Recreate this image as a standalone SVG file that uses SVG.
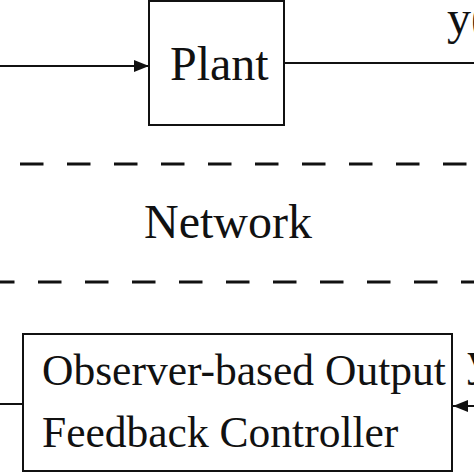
<svg xmlns="http://www.w3.org/2000/svg" width="474" height="474" viewBox="0 0 474 474">
<style>
.box{fill:#fff;stroke:#111;stroke-width:2}
.ln{fill:none;stroke:#111;stroke-width:2}
.dash{fill:none;stroke:#111;stroke-width:3;stroke-dasharray:23.5 23.5}
text{font-family:"Liberation Serif","Times New Roman",serif;fill:#111}
</style>
<defs>
<marker id="ah" viewBox="0 0 15 12" refX="15" refY="6" markerWidth="15" markerHeight="12" markerUnits="userSpaceOnUse" orient="auto">
<path d="M0,0 L15,6 L0,12 Z" fill="#111"/>
</marker>
</defs>
<g id="connectors">
<line class="ln" x1="0" y1="66" x2="149" y2="66" marker-end="url(#ah)"/>
<line class="ln" x1="284" y1="63" x2="474" y2="63"/>
<line class="ln" x1="0" y1="404" x2="23" y2="404"/>
<line class="ln" x1="474" y1="406" x2="453" y2="406" marker-end="url(#ah)"/>
</g>
<g id="plant">
<rect class="box" x="149" y="1" width="135" height="124"/>
<text x="170" y="80" font-size="48">Plant</text>
</g>
<g id="labels">
<text x="447" y="34" font-size="48">y(t)</text>
<text x="467" y="375" font-size="48">y(t)</text>
</g>
<g id="network">
<line class="dash" x1="20" y1="164" x2="474" y2="164"/>
<line class="dash" x1="-9" y1="282" x2="474" y2="282"/>
<text x="144" y="238" font-size="48">Network</text>
</g>
<g id="controller">
<rect class="box" x="23" y="334" width="429" height="137"/>
<text x="42" y="385" font-size="43.5">Observer-based Output</text>
<text x="42" y="447" font-size="43.5">Feedback Controller</text>
</g>
</svg>
